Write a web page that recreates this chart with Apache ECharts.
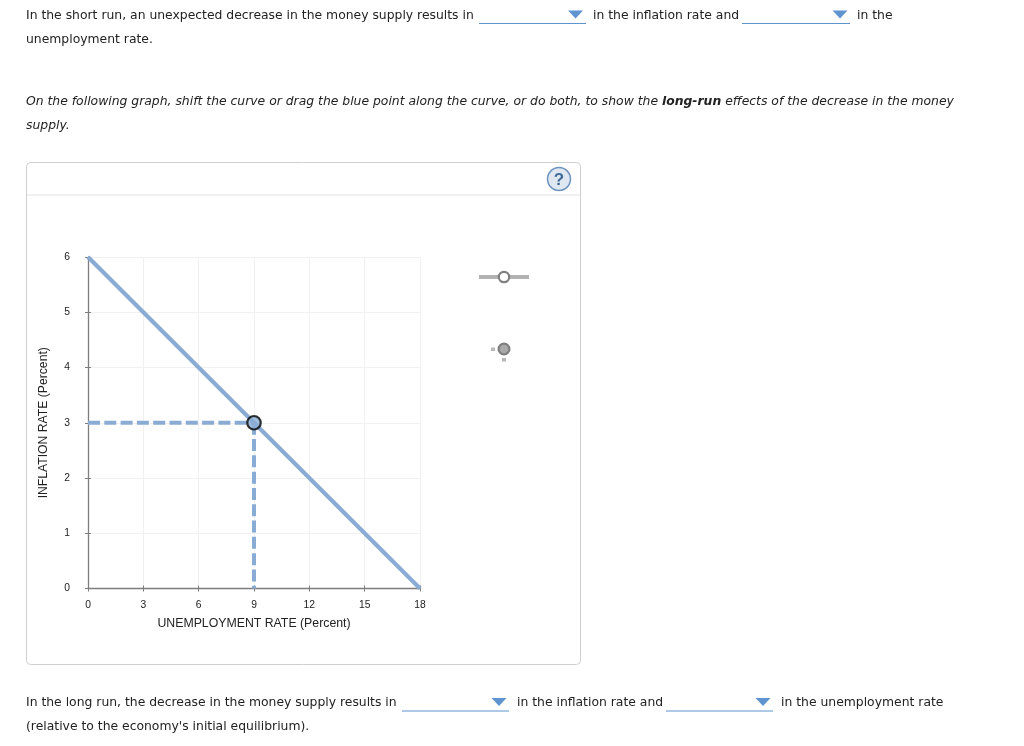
<!DOCTYPE html>
<html><head><meta charset="utf-8">
<style>html,body{margin:0;padding:0;background:#fff}#c{width:1024px;height:746px}</style>
<script src="https://cdn.jsdelivr.net/npm/echarts@6/dist/echarts.min.js"></script>
</head><body><div id="c"></div>
<script>
const xTicks = [0, 3, 6, 9, 12, 15, 18];
const yTicks = [0, 1, 2, 3, 4, 5, 6];
const curve = [[0, 6], [18, 0]];
const dashH = [[0, 3], [9, 3]];
const dashV = [[9, 3], [9, 0]];
const point = [[9, 3]];
const xTitle = 'UNEMPLOYMENT RATE (Percent)';
const yTitle = 'INFLATION RATE (Percent)';

const BLUE = '#8aacd4';
const F = '"DejaVu Sans"';
const FS = 12.39;
const chart = echarts.init(document.getElementById('c'), null, {renderer: 'canvas'});

function T(x, y, text, italic) {
  return {type: 'text', x, y: y + 1, style: {text, fill: '#222', font: (italic ? 'italic ' : '') + FS + 'px ' + F, verticalAlign: 'middle'}};
}
function drop(x1, x2, y, tx) {
  return [
    {type: 'rect', shape: {x: x1, y: y - 0.5, width: x2 - x1, height: 1}, style: {fill: '#5f94d0'}},
    {type: 'polygon', shape: {points: [[tx, y - 13], [tx + 15, y - 13], [tx + 7.5, y - 5]]}, style: {fill: '#5f94d0'}}
  ];
}
const elements = [
  {type: 'rect', z: -1, shape: {x: 26.5, y: 162.5, width: 554, height: 502, r: 4}, style: {fill: '#fff', stroke: '#cfcfcf', lineWidth: 1}},
  {type: 'line', z: -1, shape: {x1: 27, y1: 195, x2: 580, y2: 195}, style: {stroke: '#e2e2e2', lineWidth: 1}},
  {type: 'circle', shape: {cx: 559, cy: 179, r: 11.5}, style: {fill: '#dfe8f1', stroke: '#6d93c0', lineWidth: 1.5}},
  {type: 'text', x: 559, y: 180, style: {text: '?', fill: '#3f6a99', font: 'bold 17px "Liberation Sans"', align: 'center', verticalAlign: 'middle'}},
  {type: 'line', shape: {x1: 479, y1: 277, x2: 529, y2: 277}, style: {stroke: '#b3b3b3', lineWidth: 4}},
  {type: 'circle', shape: {cx: 504, cy: 277, r: 5.2}, style: {fill: '#fff', stroke: '#7f7f7f', lineWidth: 2.2}},
  {type: 'circle', shape: {cx: 504, cy: 349, r: 5.4}, style: {fill: '#a9a9a9', stroke: '#7f7f7f', lineWidth: 2.2}},
  {type: 'rect', shape: {x: 491, y: 347.5, width: 4, height: 3.5}, style: {fill: '#b8b8b8'}},
  {type: 'rect', shape: {x: 502, y: 358, width: 4, height: 3.5}, style: {fill: '#b8b8b8'}},
  T(26, 14.5, 'In the short run, an unexpected decrease in the money supply results in'),
  T(593, 14.5, 'in the inflation rate and'),
  T(857, 14.5, 'in the'),
  T(26, 38.5, 'unemployment rate.'),
  {type: 'text', x: 26, y: 101.5, style: {
    text: '{i|On the following graph, shift the curve or drag the blue point along the curve, or do both, to show the }{b|long-run}{i| effects of the decrease in the money}',
    verticalAlign: 'middle',
    rich: {i: {fill: '#222', font: 'italic ' + FS + 'px ' + F}, b: {fill: '#222', font: 'italic bold ' + FS + 'px ' + F}}
  }},
  T(26, 124.5, 'supply.', true),
  T(26, 702, 'In the long run, the decrease in the money supply results in'),
  T(517, 702, 'in the inflation rate and'),
  T(781, 702, 'in the unemployment rate'),
  T(26, 726, "(relative to the economy's initial equilibrium)."),
  ...drop(479, 586, 23.5, 568),
  ...drop(742, 850, 23.5, 832.5),
  ...drop(402, 509, 711, 491.5),
  ...drop(666, 773, 711, 755.5)
];

const lblStyle = {color: '#222', fontFamily: '"Liberation Sans"', fontSize: 10.3};
const grid = {left: 88, right: 604, top: 257, bottom: 157.5};
chart.setOption({
  animation: false,
  backgroundColor: '#fff',
  graphic: {elements},
  grid,
  xAxis: [{
    type: 'value', min: 0, max: 18, interval: 3, position: 'bottom',
    name: xTitle, nameLocation: 'middle', nameGap: 29,
    nameTextStyle: {color: '#222', fontFamily: '"Liberation Sans"', fontSize: 12.3},
    axisLine: {show: true, lineStyle: {color: '#7d7d7d', width: 1.3}},
    axisTick: {show: true, length: 3, lineStyle: {color: '#7d7d7d'}},
    axisLabel: {...lblStyle, margin: 12, showMinLabel: true, showMaxLabel: true, hideOverlap: false, customValues: xTicks},
    splitLine: {show: true, lineStyle: {color: '#f1f1f1', width: 1}}
  }, {
    type: 'value', min: 0, max: 18, interval: 3, position: 'bottom',
    axisLine: {show: false},
    axisTick: {show: true, inside: true, length: 3, lineStyle: {color: '#7d7d7d'}},
    axisLabel: {show: false}, splitLine: {show: false}
  }],
  yAxis: [{
    type: 'value', min: 0, max: 6, interval: 1, position: 'left',
    name: yTitle, nameLocation: 'middle', nameGap: 38, nameRotate: 90,
    nameTextStyle: {color: '#222', fontFamily: '"Liberation Sans"', fontSize: 12.2},
    axisLine: {show: true, lineStyle: {color: '#7d7d7d', width: 1.3}},
    axisTick: {show: true, length: 3, lineStyle: {color: '#7d7d7d'}},
    axisLabel: {...lblStyle, margin: 18, padding: [2, 0, 0, 0], showMinLabel: true, showMaxLabel: true, hideOverlap: false, customValues: yTicks},
    splitLine: {show: true, lineStyle: {color: '#f1f1f1', width: 1}}
  }, {
    type: 'value', min: 0, max: 6, interval: 1, position: 'left',
    axisLine: {show: false},
    axisTick: {show: true, inside: true, length: 3, lineStyle: {color: '#7d7d7d'}},
    axisLabel: {show: false}, splitLine: {show: false}
  }],
  series: [
    {type: 'line', data: curve, symbol: 'none', clip: false, lineStyle: {color: BLUE, width: 4.2}, z: 3},
    {type: 'line', data: dashH, symbol: 'none', clip: false, lineStyle: {color: BLUE, width: 4, type: [12, 4.3]}, z: 2},
    {type: 'line', data: dashV, symbol: 'none', clip: false, lineStyle: {color: BLUE, width: 4, type: [12, 4.3]}, z: 2},
    {type: 'scatter', data: point, symbol: 'circle', symbolSize: 13.5, clip: false,
     itemStyle: {color: BLUE, borderColor: '#000', borderWidth: 2.2}, z: 5}
  ]
});
</script></body></html>
